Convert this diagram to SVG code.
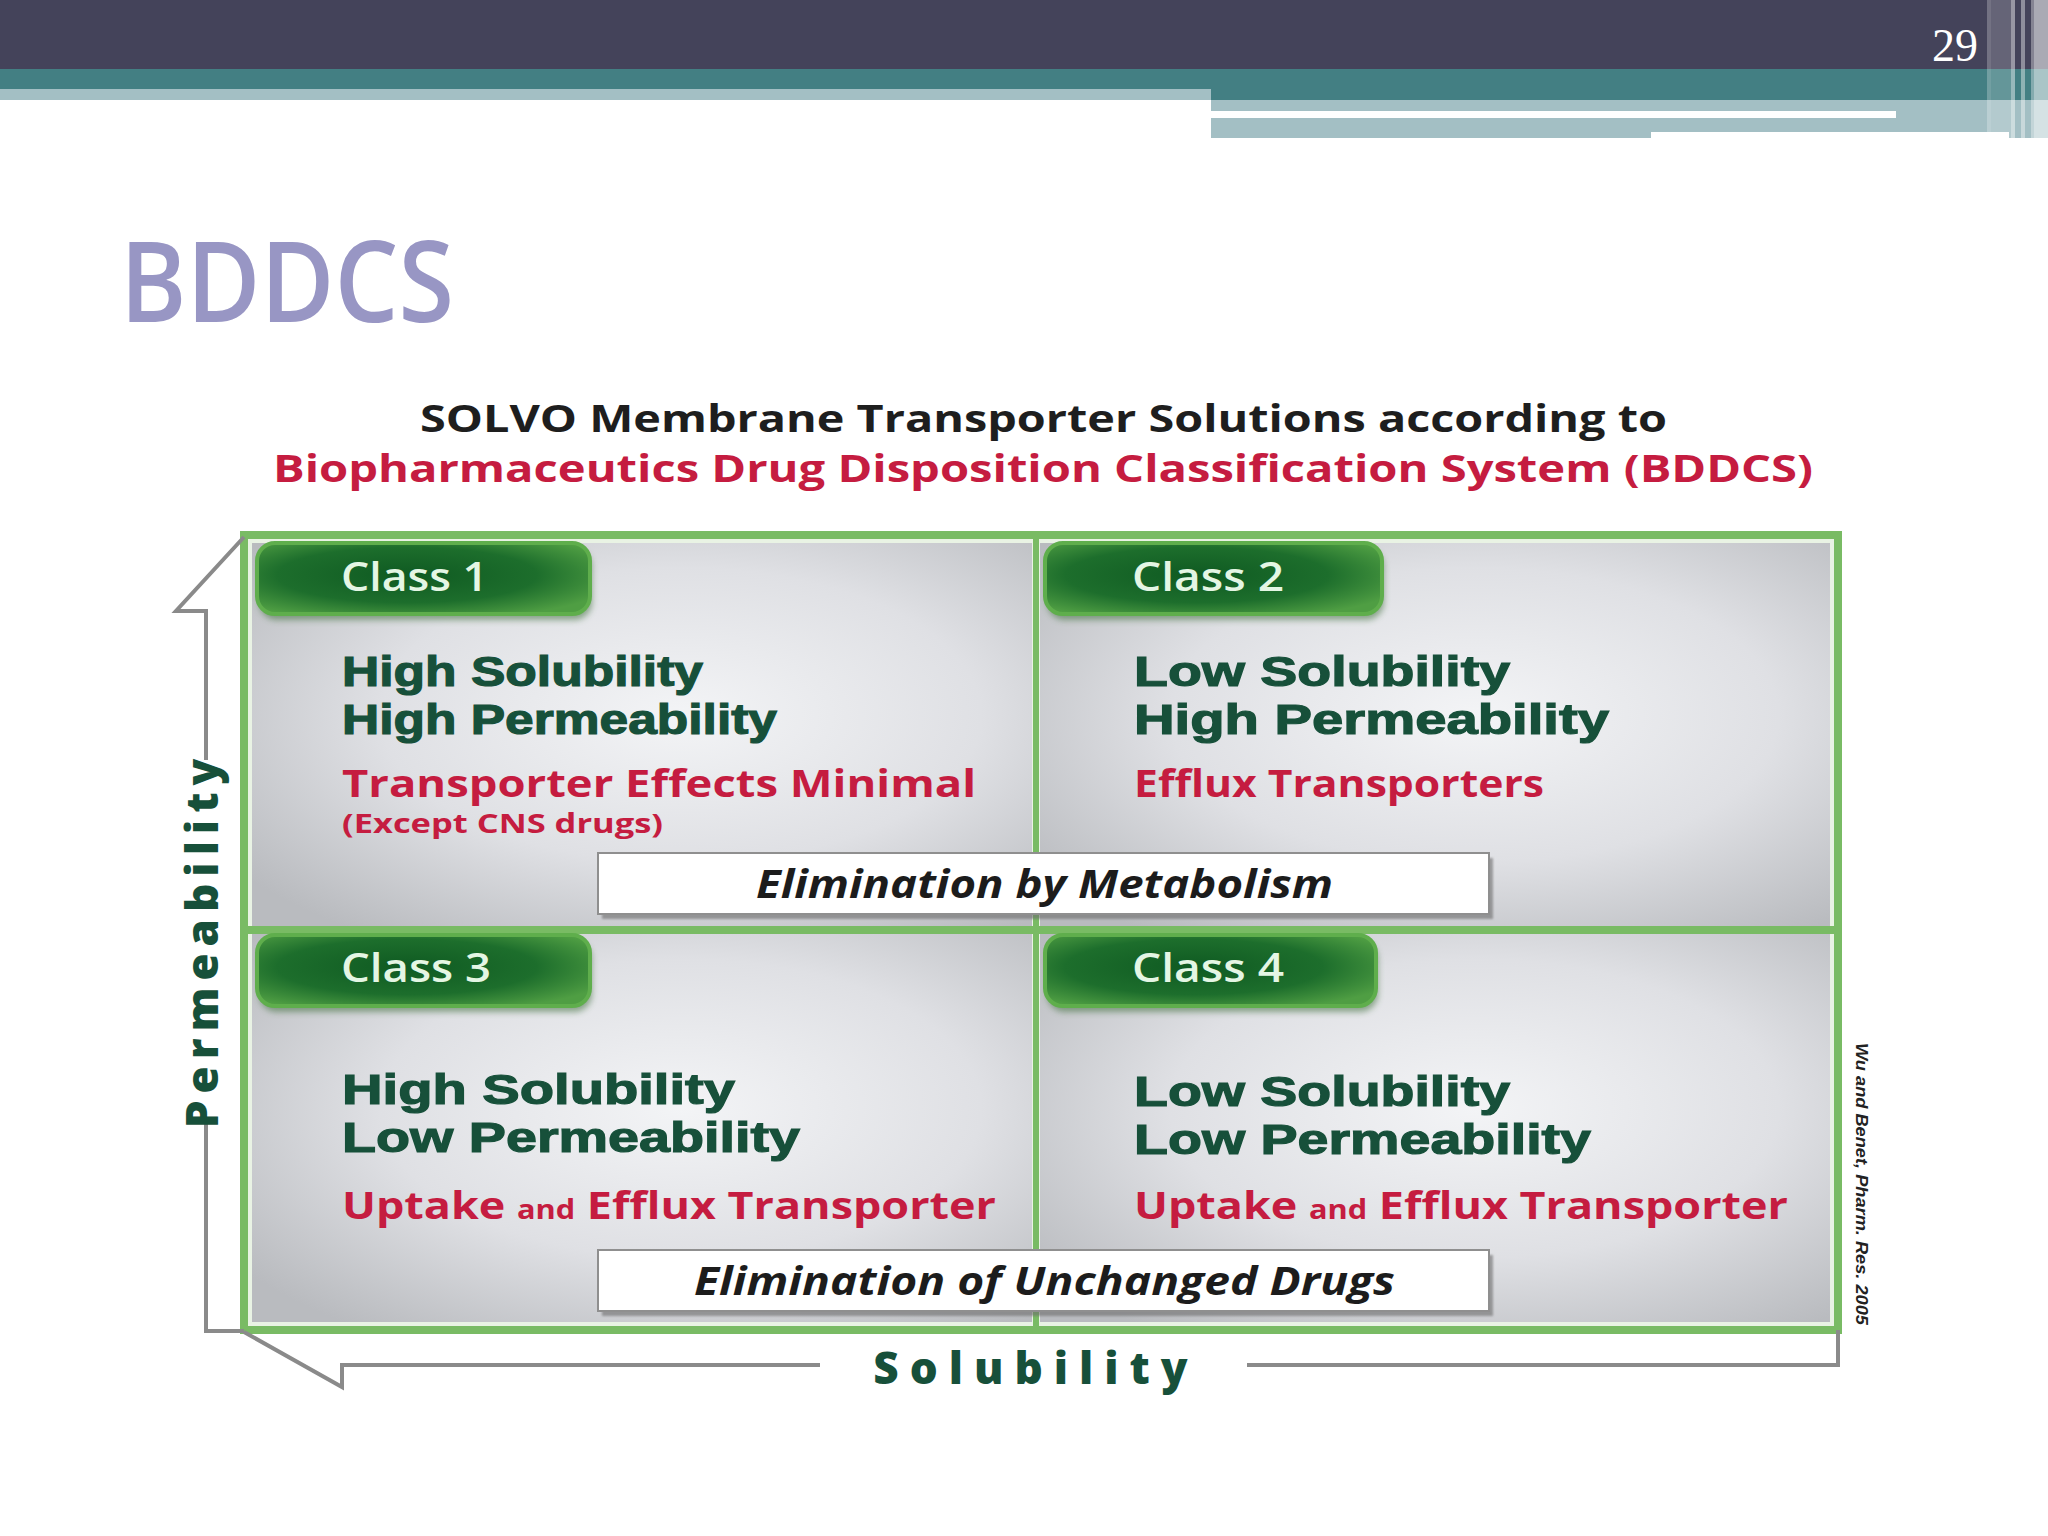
<svg xmlns="http://www.w3.org/2000/svg" width="2048" height="1536" viewBox="0 0 2048 1536">
<defs>
  <radialGradient id="qbg" cx="0.55" cy="0.45" r="0.7">
    <stop offset="0" stop-color="#f3f4f6"/>
    <stop offset="0.55" stop-color="#dfe0e4"/>
    <stop offset="1" stop-color="#b9bbbf"/>
  </radialGradient>
  <radialGradient id="tabbg" cx="0.45" cy="0.45" r="0.65">
    <stop offset="0" stop-color="#0f5a22"/>
    <stop offset="0.6" stop-color="#1d6e2c"/>
    <stop offset="1" stop-color="#4f9e43"/>
  </radialGradient>
  <filter id="soft" x="-10%" y="-10%" width="120%" height="120%">
    <feGaussianBlur stdDeviation="3"/>
  </filter>
  <filter id="glow" x="-5%" y="-20%" width="110%" height="140%">
    <feGaussianBlur stdDeviation="1.2"/>
  </filter>
</defs>
<style>
  .tabtxt{font-family:"Open Sans","Liberation Sans",sans-serif;font-size:40px;fill:#e4f6e4;font-weight:600}
  .grn{font-family:"Liberation Sans",sans-serif;font-size:43px;font-weight:700;fill:#17503a;stroke:#17503a;stroke-width:1.2}
  .red{font-family:"Open Sans","Liberation Sans",sans-serif;font-size:38px;font-weight:700;fill:#c51c40}
  .redsm{font-family:"Open Sans","Liberation Sans",sans-serif;font-size:26px;font-weight:700;fill:#c51c40}
  .elim{font-family:"Open Sans","Liberation Sans",sans-serif;font-size:40px;font-weight:700;font-style:italic;fill:#1c1c1c}
  .axis{font-family:"Open Sans","Liberation Sans",sans-serif;font-size:44px;font-weight:800;fill:#17503a}
  .ax{fill:none;stroke:#8a8a8a;stroke-width:4}
  .tab{fill:url(#tabbg);stroke:#5fae4c;stroke-width:4}
  .tabsh{fill:#3e6d3a;opacity:0.55}
  .quad{fill:url(#qbg)}
  .ebox{fill:#ffffff;stroke:#8f8f8f;stroke-width:2}
  .esh{fill:#6d6d6d;opacity:0.6}
</style>

<!-- header -->
<g id="header">
  <rect x="0" y="0" width="2048" height="69" fill="#44435a"/>
  <rect x="0" y="69" width="2048" height="31" fill="#437f83"/>
  <rect x="0" y="89" width="1211" height="11" fill="#a3bfc4"/>
  <rect x="1211" y="100" width="837" height="38" fill="#a3bfc4"/>
  <rect x="1211" y="111" width="685" height="7" fill="#ffffff"/>
  <rect x="1651" y="132" width="358" height="6" fill="#ffffff"/>
  <rect x="1987" y="0" width="4" height="138" fill="#ffffff" opacity="0.25"/>
  <rect x="1991" y="0" width="20" height="138" fill="#ffffff" opacity="0.18"/>
  <rect x="2011" y="0" width="4" height="138" fill="#ffffff" opacity="0.45"/>
  <rect x="2021" y="0" width="4" height="138" fill="#ffffff" opacity="0.4"/>
  <rect x="2031" y="0" width="3" height="138" fill="#ffffff" opacity="0.35"/>
  <rect x="2034" y="0" width="14" height="138" fill="#ffffff" opacity="0.55"/>
  <text x="1978" y="61" text-anchor="end" font-family="Liberation Serif, serif" font-size="46" fill="#ffffff">29</text>
</g>

<text id="title" x="120" y="322" font-family="Open Sans, Liberation Sans, sans-serif" font-size="112" font-weight="600" fill="#9896c4" textLength="334" lengthAdjust="spacingAndGlyphs">BDDCS</text>

<g id="subtitle">
  <text x="420" y="432" font-family="Open Sans, Liberation Sans, sans-serif" font-size="38" font-weight="700" fill="#1e1e1e" textLength="1247" lengthAdjust="spacingAndGlyphs">SOLVO Membrane Transporter Solutions according to</text>
  <text x="273" y="482" font-family="Open Sans, Liberation Sans, sans-serif" font-size="38" font-weight="700" fill="#c51c40" textLength="1540" lengthAdjust="spacingAndGlyphs">Biopharmaceutics Drug Disposition Classification System (BDDCS)</text>
</g>

<!-- grid background -->
<g id="grid">
  <rect x="244" y="535" width="1594" height="795" fill="#e9f3e4"/>
  <rect class="quad" x="252" y="543" width="780" height="383"/>
  <rect class="quad" x="1040" y="543" width="790" height="383"/>
  <rect class="quad" x="252" y="934" width="780" height="388"/>
  <rect class="quad" x="1040" y="934" width="790" height="388"/>
  <rect x="244" y="535" width="1594" height="795" fill="none" stroke="#79bb64" stroke-width="8"/>
  <line x1="1036" y1="535" x2="1036" y2="1330" stroke="#79bb64" stroke-width="6"/>
  <line x1="244" y1="930" x2="1838" y2="930" stroke="#79bb64" stroke-width="8"/>
</g>

<!-- connectors: axes -->
<g id="connectors">
  <polyline class="ax" points="206,760 206,611 176,611 244,537"/>
  <polyline class="ax" points="206,1120 206,1331 244,1331"/>
  <polyline class="ax" points="244,1332 342,1387 342,1365 820,1365"/>
  <polyline class="ax" points="1247,1365 1838,1365 1838,1330"/>
</g>

<g id="axis-permeability">
  <text class="axis" transform="translate(218,940) rotate(-90)" text-anchor="middle" letter-spacing="7">Permeability</text>
</g>
<g id="axis-solubility">
  <text class="axis" x="1036" y="1384" text-anchor="middle" letter-spacing="11">Solubility</text>
</g>
<g id="citation">
  <text transform="translate(1856,1184) rotate(90)" text-anchor="middle" font-family="Liberation Sans, sans-serif" font-size="17" font-weight="700" font-style="italic" fill="#222" textLength="282" lengthAdjust="spacingAndGlyphs">Wu and Benet, Pharm. Res. 2005</text>
</g>

<!-- Class 1 -->
<g id="class1">
  <rect class="tabsh" x="259" y="549" width="333" height="71" rx="18" filter="url(#soft)"/>
  <rect class="tab" x="257" y="543" width="333" height="71" rx="18"/>
  <text class="tabtxt" x="341" y="591" textLength="147" lengthAdjust="spacingAndGlyphs">Class 1</text>
  <text class="grn" x="342" y="686" textLength="361" lengthAdjust="spacingAndGlyphs">High Solubility</text>
  <text class="grn" x="342" y="734" textLength="435" lengthAdjust="spacingAndGlyphs">High Permeability</text>
  <text class="red" x="342" y="797" textLength="634" lengthAdjust="spacingAndGlyphs">Transporter Effects Minimal</text>
  <text class="redsm" x="342" y="833" textLength="321" lengthAdjust="spacingAndGlyphs">(Except CNS drugs)</text>
</g>

<!-- Class 2 -->
<g id="class2">
  <rect class="tabsh" x="1047" y="549" width="337" height="71" rx="18" filter="url(#soft)"/>
  <rect class="tab" x="1045" y="543" width="337" height="71" rx="18"/>
  <text class="tabtxt" x="1132" y="591" textLength="152" lengthAdjust="spacingAndGlyphs">Class 2</text>
  <text class="grn" x="1134" y="686" textLength="376" lengthAdjust="spacingAndGlyphs">Low Solubility</text>
  <text class="grn" x="1134" y="734" textLength="475" lengthAdjust="spacingAndGlyphs">High Permeability</text>
  <text class="red" x="1134" y="797" textLength="410" lengthAdjust="spacingAndGlyphs">Efflux Transporters</text>
</g>

<!-- Elimination by Metabolism -->
<g id="elim-metabolism">
  <rect class="esh" x="602" y="858" width="891" height="61" filter="url(#glow)"/>
  <rect class="ebox" x="598" y="853" width="891" height="61"/>
  <text class="elim" x="756" y="898" textLength="577" lengthAdjust="spacingAndGlyphs">Elimination by Metabolism</text>
</g>

<!-- Class 3 -->
<g id="class3">
  <rect class="tabsh" x="259" y="941" width="333" height="71" rx="18" filter="url(#soft)"/>
  <rect class="tab" x="257" y="935" width="333" height="71" rx="18"/>
  <text class="tabtxt" x="341" y="982" textLength="150" lengthAdjust="spacingAndGlyphs">Class 3</text>
  <text class="grn" x="342" y="1104" textLength="393" lengthAdjust="spacingAndGlyphs">High Solubility</text>
  <text class="grn" x="342" y="1152" textLength="458" lengthAdjust="spacingAndGlyphs">Low Permeability</text>
  <text class="red" x="342" y="1219" textLength="654" lengthAdjust="spacingAndGlyphs">Uptake <tspan class="redsm">and</tspan> Efflux Transporter</text>
</g>

<!-- Class 4 -->
<g id="class4">
  <rect class="tabsh" x="1047" y="941" width="331" height="71" rx="18" filter="url(#soft)"/>
  <rect class="tab" x="1045" y="935" width="331" height="71" rx="18"/>
  <text class="tabtxt" x="1132" y="982" textLength="152" lengthAdjust="spacingAndGlyphs">Class 4</text>
  <text class="grn" x="1134" y="1106" textLength="376" lengthAdjust="spacingAndGlyphs">Low Solubility</text>
  <text class="grn" x="1134" y="1154" textLength="457" lengthAdjust="spacingAndGlyphs">Low Permeability</text>
  <text class="red" x="1134" y="1219" textLength="654" lengthAdjust="spacingAndGlyphs">Uptake <tspan class="redsm">and</tspan> Efflux Transporter</text>
</g>

<!-- Elimination of Unchanged Drugs -->
<g id="elim-unchanged">
  <rect class="esh" x="602" y="1255" width="891" height="61" filter="url(#glow)"/>
  <rect class="ebox" x="598" y="1250" width="891" height="61"/>
  <text class="elim" x="694" y="1295" textLength="701" lengthAdjust="spacingAndGlyphs">Elimination of Unchanged Drugs</text>
</g>
</svg>
